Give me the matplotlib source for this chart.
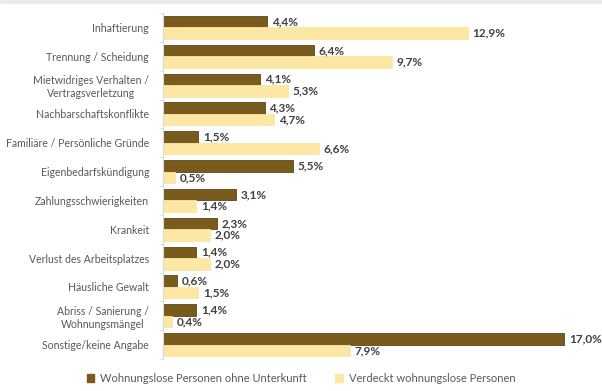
import matplotlib
matplotlib.use("Agg")
import matplotlib.pyplot as plt
from matplotlib.patches import Patch
import numpy as np

categories = ["Inhaftierung", "Trennung / Scheidung", "Mietwidriges Verhalten /\nVertragsverletzung",
              "Nachbarschaftskonflikte", "Familiäre / Persönliche Gründe", "Eigenbedarfskündigung",
              "Zahlungsschwierigkeiten", "Krankeit", "Verlust des Arbeitsplatzes", "Häusliche Gewalt",
              "Abriss / Sanierung /\nWohnungsmängel", "Sonstige/keine Angabe"]
ohne_unterkunft = [4.4, 6.4, 4.1, 4.3, 1.5, 5.5, 3.1, 2.3, 1.4, 0.6, 1.4, 17.0]
verdeckt = [12.9, 9.7, 5.3, 4.7, 6.6, 0.5, 1.4, 2.0, 2.0, 1.5, 0.4, 7.9]
series_names = ["Wohnungslose Personen ohne Unterkunft", "Verdeckt wohnungslose Personen"]

dark = "#7a5b1e"
light = "#fde7a5"
txt = "#595959"

plt.rcParams['font.family'] = ['Lato', 'DejaVu Sans']

fig = plt.figure(figsize=(6.02, 3.91), dpi=100)
ax = fig.add_axes([163/602, 1-359/391, (588-163)/602, (359-13)/391])

n = len(categories)
y = np.arange(n)
h = 0.4
ax.barh(y - h/2, ohne_unterkunft, height=h, color=dark, edgecolor="#5e4615", linewidth=0.6)
ax.barh(y + h/2, verdeckt, height=h, color=light, edgecolor=light, linewidth=0.6)

for i in range(n):
    ax.text(ohne_unterkunft[i] + 0.2, y[i] - h/2, f"{ohne_unterkunft[i]:.1f}%".replace(".", ","),
            va="center", ha="left", fontsize=8.5, fontweight="bold", color="#404040")
    ax.text(verdeckt[i] + 0.2, y[i] + h/2, f"{verdeckt[i]:.1f}%".replace(".", ","),
            va="center", ha="left", fontsize=8.5, fontweight="bold", color="#404040")

ax.set_ylim(n - 0.5, -0.5)
ax.set_xlim(0, 18)
ax.set_yticks(y)
ax.set_yticklabels(categories, fontsize=7.6, color=txt, ha="right", multialignment="center")
ax.tick_params(axis="y", length=0, pad=10)
ax.set_yticks(np.arange(-0.5, n, 1), minor=True)
ax.tick_params(axis="y", which="minor", length=3, color="#d9d9d9")
ax.set_xticks([])
for s in ["top", "right", "bottom"]:
    ax.spines[s].set_visible(False)
ax.spines["left"].set_color("#d9d9d9")

handles = [Patch(color=dark, label=series_names[0]), Patch(color=light, label=series_names[1])]
leg = fig.legend(handles=handles, loc="center", bbox_to_anchor=(0.5, 1-378/391), ncol=2, frameon=False,
                 fontsize=8, handlelength=0.7, handleheight=0.7, columnspacing=2.6, handletextpad=0.5)
for t in leg.get_texts():
    t.set_color(txt)

fig.patches.append(plt.Rectangle((0, 1-3/391), 1, 3/391, transform=fig.transFigure, color="#ececec"))
fig.savefig("out.png", dpi=100)
